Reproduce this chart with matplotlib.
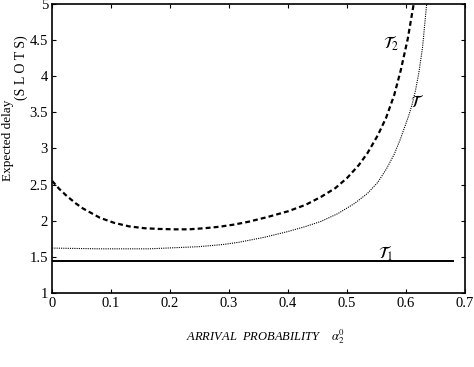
import matplotlib
matplotlib.use("Agg")
import matplotlib.pyplot as plt
import numpy as np

# Dashed curve (T2)
x_t2 = [0.0, 0.012, 0.025, 0.04, 0.052, 0.081, 0.105, 0.131, 0.157, 0.182, 0.207, 0.232, 0.258, 0.283, 0.308, 0.333, 0.365, 0.40, 0.43, 0.456, 0.48, 0.50, 0.52, 0.535, 0.552, 0.566, 0.58, 0.591, 0.603, 0.613]
y_t2 = [2.55, 2.44, 2.34, 2.24, 2.17, 2.04, 1.97, 1.92, 1.895, 1.885, 1.88, 1.88, 1.895, 1.915, 1.945, 1.985, 2.05, 2.13, 2.22, 2.33, 2.45, 2.59, 2.77, 2.94, 3.18, 3.42, 3.74, 4.08, 4.52, 5.0]
# Dotted curve (T)
x_t = [0.0, 0.08, 0.165, 0.249, 0.29, 0.316, 0.36, 0.40, 0.43, 0.456, 0.485, 0.513, 0.535, 0.552, 0.567, 0.580, 0.590, 0.597, 0.604, 0.610, 0.616, 0.622, 0.628, 0.635]
y_t = [1.62, 1.61, 1.61, 1.64, 1.67, 1.70, 1.77, 1.85, 1.92, 1.99, 2.10, 2.24, 2.38, 2.53, 2.72, 2.92, 3.12, 3.28, 3.44, 3.60, 3.80, 4.06, 4.40, 5.0]
# Solid line (T1)
x_t1 = [0.0, 0.68]
y_t1 = [1.44, 1.44]

xticks = [0, 0.1, 0.2, 0.3, 0.4, 0.5, 0.6, 0.7]
xtick_labels = ["0", "0.1", "0.2", "0.3", "0.4", "0.5", "0.6", "0.7"]
yticks = [1, 1.5, 2, 2.5, 3, 3.5, 4, 4.5, 5]
ytick_labels = ["1", "1.5", "2", "2.5", "3", "3.5", "4", "4.5", "5"]

plt.rcParams['font.family'] = ['Liberation Serif', 'DejaVu Serif']
plt.rcParams['mathtext.fontset'] = 'stix'

fig = plt.figure(figsize=(4.74, 3.67), dpi=100)
ax = fig.add_axes([0.110, 0.202, 0.871, 0.787])

ax.plot(x_t2, y_t2, color='black', lw=1.6, linestyle=(0, (2.2, 1.4)))
ax.plot(x_t, y_t, color='black', lw=0.8, linestyle=(0, (1, 1)))
ax.plot(x_t1, y_t1, color='black', lw=1.4)

ax.set_xlim(0, 0.7)
ax.set_ylim(1, 5)
ax.set_xticks(xticks)
ax.set_xticklabels(xtick_labels)
ax.set_yticks(yticks)
ax.set_yticklabels(ytick_labels)
ax.tick_params(direction='in', top=True, right=True, labelsize=10.5, length=3, width=0.8, pad=3)
for s in ax.spines.values():
    s.set_linewidth(1.2)

ax.text(0.574, 4.45, r"$\mathcal{T}_2$", fontsize=12, ha='center', va='center')
ax.text(0.618, 3.64, r"$\mathcal{T}$", fontsize=12, ha='center', va='center')
ax.text(0.565, 1.55, r"$\mathcal{T}_1$", fontsize=12, ha='center', va='center')

fig.text(8/474, 1-140/367, "Expected delay", rotation=90, fontsize=9.5, ha='center', va='center')
fig.text(21/474, 1-68/367, "(S L O T S)", rotation=90, fontsize=10, ha='center', va='center')
fig.text(266/474, 1-337/367, r"ARRIVAL  PROBABILITY    $\alpha_2^0$", fontsize=9, style='italic',
         ha='center', va='center')

fig.savefig("out.png", dpi=100)
